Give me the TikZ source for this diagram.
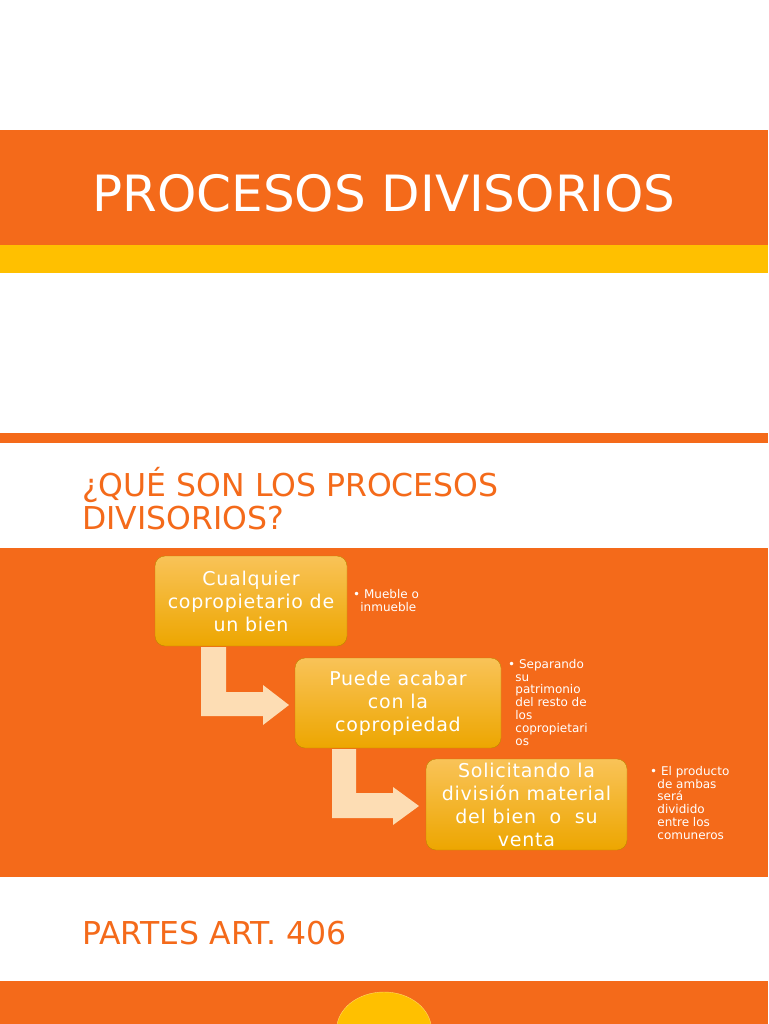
\documentclass[tikz,border=0pt]{standalone}
\usepackage{fontspec}
\setmainfont{DejaVu Sans}
\usetikzlibrary{shapes.geometric}
\definecolor{org}{HTML}{F46A1A}
\definecolor{yel}{HTML}{FFC000}
\definecolor{btop}{HTML}{F9C358}
\definecolor{bbot}{HTML}{EDA600}
\definecolor{peach}{HTML}{FDDDB4}
\begin{document}
\begin{tikzpicture}[x=1pt,y=-1pt,
  box/.style={rounded corners=10pt,top color=btop,bottom color=bbot,draw=bbot!80!black,line width=0.4pt,minimum width=#1,align=center,text=white,font=\fontsize{19}{23}\selectfont\addfontfeatures{LetterSpace=4},inner sep=2pt},
  bul/.style={text=white,font=\fontsize{12}{12.8}\selectfont,align=left,anchor=north west,inner sep=0},
  sect/.style={text=org,font=\fontsize{31.5}{33}\selectfont,align=left,anchor=west,inner sep=0},
  barrow/.style={fill=peach,draw=none}]
\useasboundingbox (0,0) rectangle (768,1024);
\fill[white] (0,0) rectangle (768,1024);
\fill[org] (0,130) rectangle (768,245);
\fill[yel] (0,245) rectangle (768,273);
\node[text=white,font=\fontsize{50}{52}\selectfont] (title) at (384,193) {PROCESOS DIVISORIOS};
\fill[org] (0,433) rectangle (768,443);
\node[sect,anchor=north west] (q) at (82,467) {¿QUÉ SON LOS PROCESOS\\DIVISORIOS?};
\fill[org] (0,548) rectangle (768,877);
% arrows
\fill[barrow] (201,647) -- (226,647) -- (226,692) -- (263,692) -- (263,685) -- (289,705) -- (263,725) -- (263,716) -- (201,716) -- cycle;
\fill[barrow] (332,749) -- (356,749) -- (356,793) -- (393,793) -- (393,787) -- (419,806) -- (393,825) -- (393,818) -- (332,818) -- cycle;
\node[box=192pt,minimum height=90pt] (b1) at (251,601) {Cualquier\\copropietario de\\un bien};
\node[box=206pt,minimum height=90pt] (b2) at (398,703) {Puede acabar\\con la\\copropiedad};
\node[box=201pt,minimum height=91pt] (b3) at (526.5,804.5) {Solicitando la\\división material\\del bien\ \ o\ \ su\\venta};
\node[bul] (t1) at (353,589) {• Mueble o\\\hspace*{0.6em}inmueble};
\node[bul] (t2) at (508,659) {• Separando\\\hspace*{0.6em}su\\\hspace*{0.6em}patrimonio\\\hspace*{0.6em}del resto de\\\hspace*{0.6em}los\\\hspace*{0.6em}copropietari\\\hspace*{0.6em}os};
\node[bul] (t3) at (650,766) {• El producto\\\hspace*{0.6em}de ambas\\\hspace*{0.6em}será\\\hspace*{0.6em}dividido\\\hspace*{0.6em}entre los\\\hspace*{0.6em}comuneros};
\node[sect] (p) at (82,933) {PARTES ART. 406};
\fill[org] (0,981) rectangle (768,1024);
\node[ellipse,fill=yel,draw=yel!60!white,minimum width=95pt,minimum height=76pt] (c) at (384,1030) {};
\end{tikzpicture}
\end{document}
